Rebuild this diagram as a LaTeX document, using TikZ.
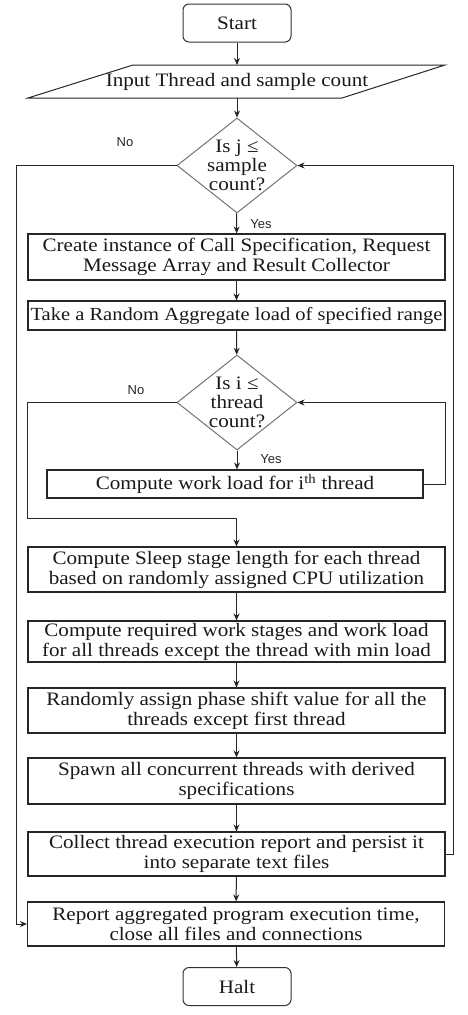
\documentclass[tikz,border=0pt]{standalone}
\usepackage{fontspec}
\setmainfont{Liberation Serif}[FakeStretch=1.11]
\newfontfamily\lblfont{Liberation Sans}
\usetikzlibrary{shapes.geometric,arrows.meta}
\begin{document}
\begin{tikzpicture}[x=1pt,y=-1pt,
 every node/.style={font=\fontsize{19}{20}\selectfont, text=black!90},
 proc/.style={draw=black!85, line width=1.1pt, minimum width=417pt, align=center, inner sep=0pt},
 term/.style={draw=black!80, line width=1pt, rounded corners=6pt, minimum width=108pt, minimum height=38pt},
 dec/.style={diamond, draw=black!55, line width=1pt, minimum width=120pt, minimum height=95pt, inner sep=0pt},
 flow/.style={-{Stealth[length=7pt,width=6pt]}, line width=1pt, draw=black!85},
 yn/.style={font=\lblfont\fontsize{13}{15}\selectfont, text=black!85}]
\useasboundingbox (0,0) rectangle (468,1015);

\node[term] (start) at (237,23) {Start};
\coordinate (inT) at (237,65);
\coordinate (inB) at (237,98);
\draw[line width=1pt, draw=black!85] (133,65) -- (445,65) -- (342,98) -- (28,98) -- cycle;
\node (inp) at (237,81.5) {Input Thread and sample count};

\node[dec] (d1) at (237,165.5) {};
\node[align=center, font=\fontsize{19}{19}\selectfont] (d1t) at (d1) {Is j ≤\\sample\\count?};

\node[proc, minimum height=46pt] (b1) at (236.5,257) {Create instance of Call Specification, Request\\Message Array and Result Collector};
\node[proc, minimum height=29pt, font=\fontsize{18.5}{20}\selectfont] (b2) at (236.5,315.5) {Take a Random Aggregate load of specified range};

\node[dec] (d2) at (237,402.5) {};
\node[align=center, font=\fontsize{19}{19}\selectfont] (d2t) at (d2) {Is i ≤\\thread\\count?};

\node[proc, minimum width=376pt, minimum height=28pt] (b3) at (235,484) {Compute work load for i\textsuperscript{th} thread};

\node[proc, minimum height=45pt] (b4) at (236.5,569.5) {Compute Sleep stage length for each thread\\based on randomly assigned CPU utilization};
\node[proc, minimum height=41pt] (b5) at (236.5,641.5) {Compute required work stages and work load\\for all threads except the thread with min load};
\node[proc, minimum height=45pt] (b6) at (236.5,710.5) {Randomly assign phase shift value for all the\\threads except first thread};
\node[proc, minimum height=46pt] (b7) at (236.5,781) {Spawn all concurrent threads with derived\\specifications};
\node[proc, minimum height=44pt] (b8) at (236.5,854) {Collect thread execution report and persist it\\into separate text files};
\node[proc, minimum height=44pt] (b9) at (236,924) {Report aggregated program execution time,\\close all files and connections};
\node[term] (halt) at (237,986.5) {Halt};

\coordinate (rr) at (453,500);
\coordinate (ll) at (16,500);
\coordinate (c1) at (27,518);

\draw[flow] (start) -- (inT);
\draw[flow] (inB) -- (d1);
\draw[flow] (d1) -- (b1);
\draw[flow] (b1) -- (b2);
\draw[flow] (b2) -- (d2);
\draw[flow] (d2.south) -- (d2.south |- b3.north);
\draw[flow] (b3.east) -- ++(22,0) |- (d2.east);
\draw[flow] (d2.west) -| (c1) -| (b4.north);
\draw[flow] (b4) -- (b5);
\draw[flow] (b5) -- (b6);
\draw[flow] (b6) -- (b7);
\draw[flow] (b7) -- (b8);
\draw[flow] (b8) -- (b9);
\draw[flow] (b9) -- (halt);
\draw[flow] (b8.east) -- (b8.east -| rr) |- (d1.east);
\draw[flow] (d1.west) -- (d1.west -| ll) |- (b9.west);

\node[yn] (no1) at (125,142) {No};
\node[yn] (yes1) at (261,224) {Yes};
\node[yn] (no2) at (136,390) {No};
\node[yn] (yes2) at (271,459) {Yes};
\end{tikzpicture}
\end{document}
